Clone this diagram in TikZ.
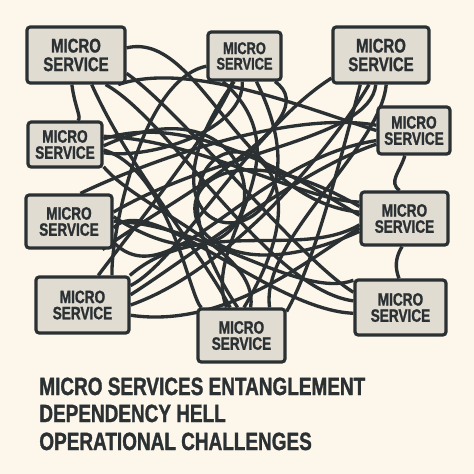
\documentclass[tikz,border=0pt]{standalone}
\usepackage{fontspec}
\setmainfont[FakeStretch=0.76,BoldFeatures={FakeBold=1.2}]{Liberation Sans}
\definecolor{bg}{HTML}{FCF6EB}
\definecolor{boxfill}{HTML}{E1DCD2}
\definecolor{ink}{HTML}{2B3033}
\pgfdeclarelayer{wires}
\pgfsetlayers{wires,main}
\begin{document}
\begin{tikzpicture}[x=0.02cm,y=-0.02cm,
  svc/.style={draw=ink, fill=boxfill, line width=1.8pt, rounded corners=1.8pt, inner sep=0pt, align=center, text=ink},
  big/.style={font=\bfseries\fontsize{11.2}{10.6}\selectfont},
  mid/.style={font=\bfseries\fontsize{10.2}{9.2}\selectfont},
  small/.style={font=\bfseries\fontsize{9.6}{8.8}\selectfont},
  wire/.style={draw=ink, line width=1.9pt},
  ttl/.style={anchor=base west, inner sep=0pt, text=ink, font=\bfseries\fontsize{14.2}{16}\selectfont}]
\begin{pgfonlayer}{wires}
\fill[bg] (0,0) rectangle (474,474);
\end{pgfonlayer}
\useasboundingbox (0,0) rectangle (474,474);
\node[svc,big,minimum width=1.96cm,minimum height=1.12cm] (A) at (76,55) {MICRO\\SERVICE};
\node[svc,small,minimum width=1.46cm,minimum height=0.96cm] (B) at (244.5,56) {MICRO\\SERVICE};
\node[svc,big,minimum width=1.92cm,minimum height=1.12cm] (C) at (381,55) {MICRO\\SERVICE};
\node[svc,mid,minimum width=1.48cm,minimum height=0.90cm] (D) at (65,144.5) {MICRO\\SERVICE};
\node[svc,mid,minimum width=1.44cm,minimum height=0.94cm] (E) at (414,130.5) {MICRO\\SERVICE};
\node[svc,mid,minimum width=1.72cm,minimum height=1.06cm] (F) at (69,221.5) {MICRO\\SERVICE};
\node[svc,mid,minimum width=1.74cm,minimum height=1.06cm] (G) at (404.5,218.5) {MICRO\\SERVICE};
\node[svc,mid,minimum width=1.86cm,minimum height=1.12cm] (H) at (82.5,305) {MICRO\\SERVICE};
\node[svc,mid,minimum width=1.82cm,minimum height=1.10cm] (I) at (400.5,307.5) {MICRO\\SERVICE};
\node[svc,mid,minimum width=1.74cm,minimum height=1.06cm] (J) at (241.5,335.5) {MICRO\\SERVICE};
\begin{pgfonlayer}{wires}
\path[wire] (A.8) .. controls (200,30) and (240,200) .. (G.172);
\path[wire] (A.-20) .. controls (180,110) and (300,260) .. (I.162);
\path[wire] (A.-62) .. controls (130,170) and (200,250) .. (J.112);
\path[wire] (A.-98) .. controls (75,108) and (82,118) .. (D.62);
\path[wire] (B.195) .. controls (140,80) and (110,240) .. (H.45);
\path[wire] (B.-95) .. controls (245,130) and (150,160) .. (D.-12);
\path[wire] (C.205) .. controls (250,130) and (180,260) .. (H.22);
\path[wire] (C.-100) .. controls (370,140) and (220,150) .. (F.12);
\path[wire] (E.180) .. controls (310,110) and (190,60) .. (A.-35);
\path[wire] (E.-110) .. controls (400,172) and (388,182) .. (G.100);
\path[wire] (G.-95) .. controls (395,258) and (395,268) .. (I.93);
\path[wire] (G.176) .. controls (300,180) and (190,110) .. (D.8);
\path[wire] (G.188) .. controls (300,260) and (200,215) .. (H.32);
\path[wire] (I.172) .. controls (270,290) and (170,120) .. (A.-45);
\path[wire] (I.187) .. controls (270,310) and (150,190) .. (F.-8);
\path[wire] (J.118) .. controls (200,240) and (310,160) .. (B.-130);
\path[wire] (J.72) .. controls (260,250) and (140,210) .. (D.-30);
\path[wire] (J.28) .. controls (310,270) and (330,200) .. (C.-125);
\path[wire] (H.62) .. controls (140,220) and (220,120) .. (B.-115);
\path[wire] (H.12) .. controls (200,250) and (300,170) .. (E.-160);
\path[wire] (H.0) .. controls (230,270) and (330,150) .. (C.-112);
\path[wire] (H.-12) .. controls (230,330) and (320,250) .. (G.-168);
\path[wire] (F.68) .. controls (150,160) and (290,110) .. (E.172);
\path[wire] (F.0) .. controls (200,222) and (300,300) .. (I.150);
\path[wire] (D.12) .. controls (200,140) and (300,200) .. (G.160);
\path[wire] (D.-8) .. controls (170,170) and (190,300) .. (J.145);
\path[wire] (B.-65) .. controls (350,270) and (100,270) .. (B.-112);
\path[wire] (J.85) .. controls (370,100) and (100,100) .. (J.98);
\path[wire] (E.195) .. controls (250,160) and (170,300) .. (F.-25);
\path[wire] (C.-80) .. controls (380,150) and (260,240) .. (J.45);
\path[wire] (D.-2) .. controls (290,60) and (290,330) .. (F.6);
\path[wire] (G.165) .. controls (140,80) and (140,330) .. (G.196);
\path[wire] (B.-40) .. controls (330,120) and (170,200) .. (F.-40);
\end{pgfonlayer}
\node[ttl] (t1) at (39,395) {MICRO SERVICES ENTANGLEMENT};
\node[ttl] (t2) at (39,422) {DEPENDENCY HELL};
\node[ttl] (t3) at (39,450) {OPERATIONAL CHALLENGES};
\end{tikzpicture}
\end{document}
